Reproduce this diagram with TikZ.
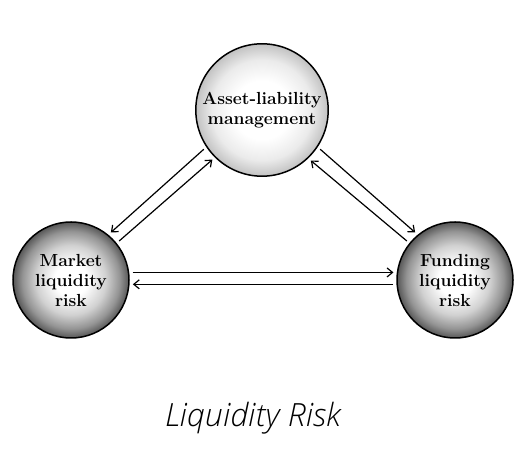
\documentclass[tikz,border=0pt]{standalone}
\usepackage{fontspec}
\usepackage{tikz}
\usetikzlibrary{arrows.meta}
\newfontfamily\captionfont{Open Sans}[UprightFont=* Light, ItalicFont=* Light Italic]

% Shadings: white middle, grey rim (rim of the circle at 25bp)
\pgfdeclareradialshading{darkball}{\pgfpoint{0bp}{0bp}}{%
    color(0bp)=(white); color(7bp)=(white); color(15bp)=(black!18);
    color(21bp)=(black!42); color(25bp)=(black!66); color(50bp)=(black!66)}
\pgfdeclareradialshading{lightball}{\pgfpoint{0bp}{0bp}}{%
    color(0bp)=(white); color(11bp)=(white); color(19bp)=(black!8);
    color(25bp)=(black!24); color(50bp)=(black!24)}

\tikzset{
    riskball/.style={circle, draw=black, line width=1.5pt, minimum size=116pt,
        outer sep=4pt, align=center, font=\fontsize{17.5}{20}\selectfont\bfseries,
        shading=darkball},
    linkarrow/.style={-{Straight Barb[length=5.5pt,width=9pt]}, line width=1.2pt}
}

\begin{document}
\begin{tikzpicture}[x=1pt, y=1pt]
    % Fix the page to the size of the reference
    \useasboundingbox (0, 0) rectangle (524, 462);

    % The three circles
    \node[riskball, minimum size=122pt, shading=lightball] (alm) at (262, 352) {Asset-liability\\management};
    \node[riskball] (mkt) at (71, 182) {Market\\liquidity\\risk};
    \node[riskball] (fund) at (455, 182) {Funding\\liquidity\\risk};

    % Market <-> asset-liability
    \draw[linkarrow] (mkt.39) -- (alm.225);
    \draw[linkarrow] (alm.214) -- (mkt.50);

    % Asset-liability <-> funding
    \draw[linkarrow] (fund.141) -- (alm.314);
    \draw[linkarrow] (alm.326) -- (fund.130);

    % Market <-> funding
    \draw[linkarrow] (mkt.7) -- (fund.173);
    \draw[linkarrow] (fund.184) -- (mkt.-4);

    % Caption
    \node[font=\captionfont\itshape\fontsize{32}{36}\selectfont, anchor=base] (caption) at (253, 35) {Liquidity Risk};
\end{tikzpicture}
\end{document}
